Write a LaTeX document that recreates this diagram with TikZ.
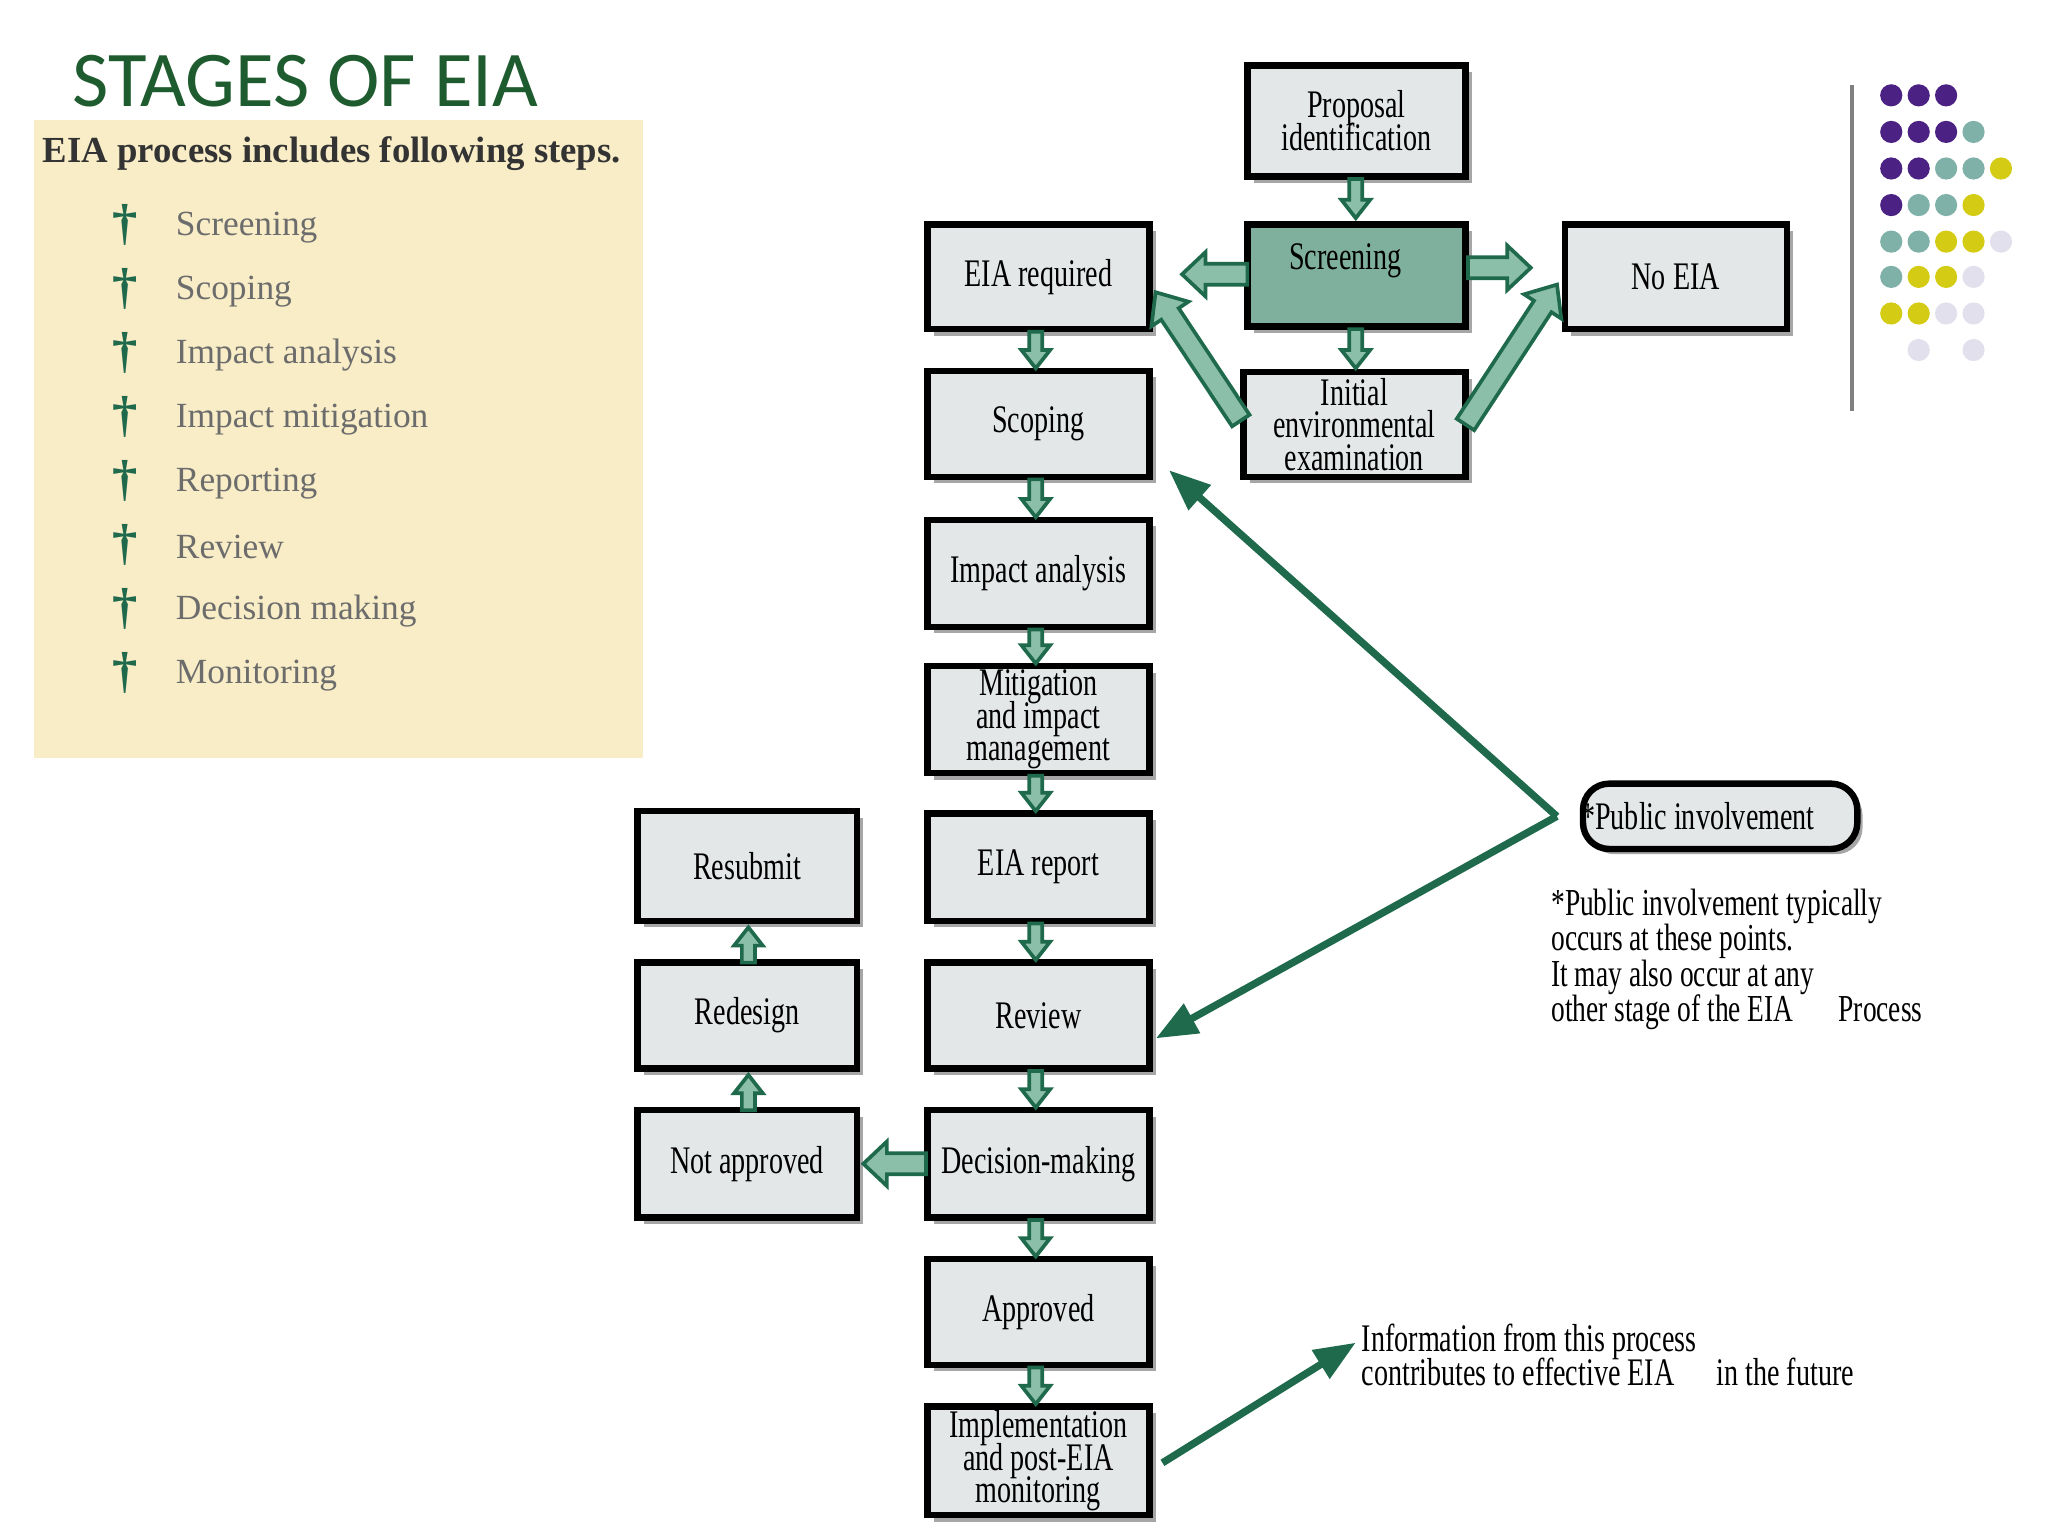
\documentclass[tikz,border=0pt]{standalone}
\usepackage{fontspec}
\setmainfont{Liberation Serif}
\newfontfamily\cond{Liberation Serif}[FakeStretch=0.72]
\newfontfamily\carl{Carlito}
\usetikzlibrary{arrows.meta}
\newcommand\tightls{\lineskiplimit=-20pt\relax\lineskip=0pt\relax}
\definecolor{bxfill}{HTML}{E4E7E7}
\definecolor{scr}{HTML}{7FB09E}
\definecolor{arf}{HTML}{8CBFAA}
\definecolor{ard}{HTML}{1F6A4C}
\definecolor{beige}{HTML}{F8EDC6}
\definecolor{ttl}{HTML}{1E5B2E}
\definecolor{dP}{HTML}{4B2283}
\definecolor{dT}{HTML}{7FB1A8}
\definecolor{dY}{HTML}{D4CC14}
\definecolor{dL}{HTML}{E2E0EC}
\tikzset{x=0.01cm,y=-0.01cm,
 boxs/.style={draw=black,line width=1.4pt,fill=bxfill},
 shad/.style={fill=gray!70,draw=none},
 btxt/.style={font=\cond\fontsize{8.5}{7.1}\selectfont\tightls,align=center,inner sep=0pt},
 barrow/.style={draw=ard,line width=0.8pt,fill=arf,line join=miter},
 pline/.style={draw=ard,line width=1.6pt},
 item/.style={font=\fontsize{7.7}{9}\selectfont,text=gray!85!black,anchor=west,inner sep=0pt},
 dag/.style={font=\fontsize{11}{11}\selectfont\bfseries,text=ard,inner sep=0pt}}
% name x1 y1 x2 y2 text fill
\newcommand\bx[7]{\fill[shad] (#2+5,#3+5) rectangle (#4+5,#5+5);
 \draw[boxs,fill=#7] (#2,#3) rectangle (#4,#5);
 \node[btxt] (#1) at ({(#2+#4)/2},{(#3+#5)/2}) {#6};}
% x y angle length shaft head headlen
\newcommand\blk[7]{\begin{scope}[shift={(#1,#2)},rotate=#3]
 \draw[barrow] (0,-#5/2) -- (#4-#7,-#5/2) -- (#4-#7,-#6/2) -- (#4,0) -- (#4-#7,#6/2) -- (#4-#7,#5/2) -- (0,#5/2) -- cycle;
 \end{scope}}
\begin{document}
\begin{tikzpicture}
\useasboundingbox (0,0) rectangle (1568,1176);
% left panel
\fill[beige] (26,92) rectangle (492,580);
\node[font=\carl\fontsize{17.2}{18}\selectfont,text=ttl,anchor=west,inner sep=0pt] (title) at (55,62) {STAGES OF EIA};
\node[font=\fontsize{8}{10}\selectfont\bfseries,text=black!80,anchor=west,inner sep=0pt] (sub) at (32,118) {EIA process includes following steps.};
\foreach \t [count=\i] in {Screening,Scoping,Impact analysis,Impact mitigation,Reporting,Review,Decision making,Monitoring}{
 \node[dag] (d\i) at (96,{125+\i*49-2}) {\dag};
 \node[item] (it\i) at (134,{125+\i*49}) {\t};}
% decoration
\draw[gray,line width=0.8pt] (1418,65) -- (1418,315);
\foreach \row/\cols in {73/{1/dP,2/dP,3/dP},101/{1/dP,2/dP,3/dP,4/dT},129/{1/dP,2/dP,3/dT,4/dT,5/dY},157/{1/dP,2/dT,3/dT,4/dY},185/{1/dT,2/dT,3/dY,4/dY,5/dL},212/{1/dT,2/dY,3/dY,4/dL},240/{1/dY,2/dY,3/dL,4/dL},268/{2/dL,4/dL}}{
 \foreach \c/\col in \cols { \fill[\col] ({1427+\c*21},\row) circle (8.5); }}
% boxes
\bx{prop}{955}{50}{1122}{135}{Proposal\\identification}{bxfill}
\bx{eia}{710}{172}{880}{252}{EIA required}{bxfill}
\fill[shad] (960,177) rectangle (1127,255);
\draw[boxs,fill=scr] (955,172) rectangle (1122,250);
\node[btxt] (scr) at (1030,200) {Screening};
\bx{noeia}{1198}{172}{1368}{252}{No EIA}{bxfill}
\bx{iee}{952}{285}{1122}{365}{Initial\\environmental\\examination}{bxfill}
\bx{scop}{710}{284}{880}{365}{Scoping}{bxfill}
\bx{imp}{710}{398}{880}{480}{Impact analysis}{bxfill}
\bx{mit}{710}{510}{880}{592}{Mitigation\\and impact\\management}{bxfill}
\bx{rep}{710}{623}{880}{705}{EIA report}{bxfill}
\bx{rev}{710}{737}{880}{818}{Review}{bxfill}
\bx{dec}{710}{850}{880}{932}{Decision-making}{bxfill}
\bx{app}{710}{964}{880}{1045}{Approved}{bxfill}
\bx{impl}{710}{1077}{880}{1160}{Implementation\\and post-EIA\\monitoring}{bxfill}
\bx{resub}{488}{621}{656}{705}{Resubmit}{bxfill}
\bx{redes}{488}{737}{656}{818}{Redesign}{bxfill}
\bx{notap}{488}{850}{656}{932}{Not approved}{bxfill}
% public involvement
\fill[shad,rounded corners=0.2cm] (1216,604) rectangle (1426,654);
\draw[boxs,rounded corners=0.2cm] (1212,600) rectangle (1422,650);
\node[btxt] (pub) at (1300,625) {*Public involvement};
% small arrows
\blk{1038}{137}{-90}{30}{10}{22}{14}
\blk{1038}{252}{-90}{30}{10}{22}{14}
\foreach \y/\z in {254/28,367/29,482/26,594/27,707/28,820/28,934/28,1047/28}{\blk{793}{\y}{-90}{\z}{10}{22}{14}}
\blk{573}{737}{90}{27}{10}{22}{14}
\blk{573}{850}{90}{27}{10}{22}{14}
% big arrows
\blk{955}{210}{180}{50}{16}{34}{18}
\blk{1124}{205}{0}{48}{16}{34}{18}
\blk{709}{891}{180}{48}{16}{34}{18}
\blk{950}{322}{123.6}{118}{16}{34}{20}
\blk{1122}{325}{56.8}{128}{16}{34}{20}
% public lines
\coordinate (pv) at (1192,625);
\coordinate (t1) at (895,360);
\coordinate (t2) at (885,795);
\draw[pline,-{Triangle[length=9pt,width=7pt]}] (pv) -- (t1);
\draw[pline,-{Triangle[length=9pt,width=7pt]}] (pv) -- (t2);
\coordinate (f0) at (890,1120);
\coordinate (f1) at (1038,1028);
\draw[pline,-{Triangle[length=9pt,width=7pt]}] (f0) -- (f1);
% notes
\node[btxt,align=left,anchor=north west,font=\cond\fontsize{8.3}{7.7}\selectfont\tightls] (note1) at (1187,680) {*Public involvement typically\\occurs at these points.\\It may also occur at any\\other stage of the EIA\hspace{1em} Process};
\node[btxt,align=left,anchor=north west,font=\cond\fontsize{8.5}{7.4}\selectfont\tightls] (note2) at (1042,1013) {Information from this process\\contributes to effective EIA\hspace{0.9em} in the future};
\end{tikzpicture}
\end{document}
